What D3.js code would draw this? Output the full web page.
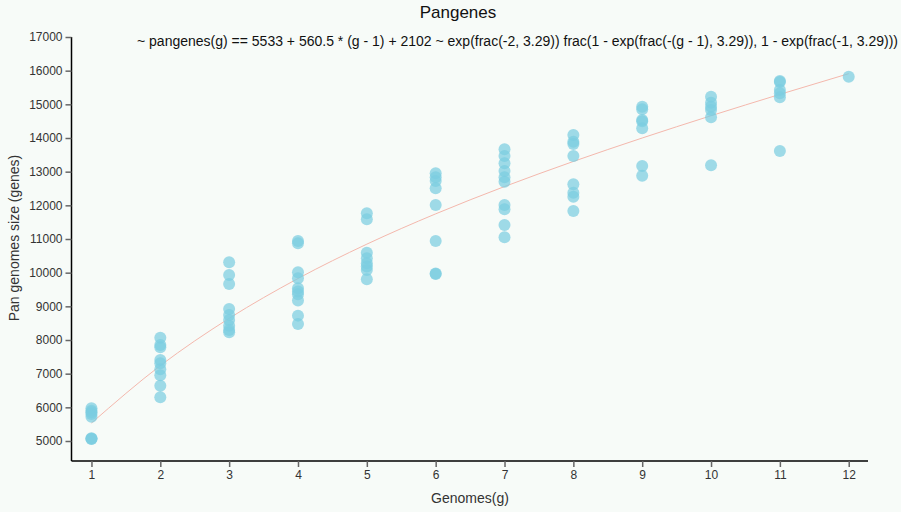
<!DOCTYPE html>
<html><head><meta charset="utf-8">
<script src="https://cdn.jsdelivr.net/npm/d3@7"></script>
<style>
html,body{margin:0;padding:0;background:#f7fbf8;}
svg{display:block;font-family:"Liberation Sans",Arial,sans-serif;}
</style></head>
<body><svg id="c" width="901" height="512"></svg>
<script>
const genomes = [1,2,3,4,5,6,7,8,9,10,11,12];
const g1 = [5972,5900,5854,5800,5723,5081,5070,5060];
const g2 = [8070,7852,7784,7407,7308,7130,6952,6644,6299];
const g3 = [10308,9932,9664,8922,8744,8595,8426,8298,8229];
const g4 = [10941,10872,10012,9834,9537,9438,9358,9170,8724,8477];
const g5 = [11763,11586,10594,10428,10279,10180,10080,9804];
const g6 = [12952,12833,12723,12505,12010,10941,9961,9975];
const g7 = [13664,13466,13248,13020,12833,12703,12010,11882,11417,11051];
const g8 = [14089,13891,13822,13466,12624,12376,12257,11832];
const g9 = [14930,14853,14535,14500,14288,13169,12881];
const g10 = [15227,15049,14930,14832,14614,13189];
const g11 = [15693,15660,15426,15328,15209,13614];
const g12 = [15821];
const pangenes = [g1,g2,g3,g4,g5,g6,g7,g8,g9,g10,g11,g12];
const fitValues = [5533,7238,8643,9826,10847,11747,12558,13303,14000,14661,15296,15911];
const yTicks = [5000,6000,7000,8000,9000,10000,11000,12000,13000,14000,15000,16000,17000];
const titleText = "Pangenes";
const formulaText = "~ pangenes(g) == 5533 + 560.5 * (g - 1) + 2102 ~ exp(frac(-2, 3.29)) frac(1 - exp(frac(-(g - 1), 3.29)), 1 - exp(frac(-1, 3.29)))";
const xLabel = "Genomes(g)";
const yLabel = "Pan genomes size (genes)";

const svg = d3.select("#c");
const mLeft = 71.5, mRight = 868, mTop = 37, mBottom = 461;
const x = d3.scaleLinear().domain([0.71, 12.28]).range([mLeft, mRight]);
const y = d3.scaleLinear().domain([4406, 17000]).range([mBottom, mTop]);

const pts = [];
pangenes.forEach((arr,i)=>arr.forEach(v=>pts.push({g:genomes[i], v})));

svg.append("path")
  .datum(genomes.map((g,i)=>({g, v:fitValues[i]})))
  .attr("fill","none").attr("stroke","#f4b8ad").attr("stroke-width",1)
  .attr("d", d3.line().x(d=>x(d.g)).y(d=>y(d.v)).curve(d3.curveMonotoneX));

svg.append("g").selectAll("circle").data(pts).join("circle")
  .attr("cx",d=>x(d.g)).attr("cy",d=>y(d.v)).attr("r",6)
  .attr("fill","#7ccde0").attr("fill-opacity",0.72);

const xa = svg.append("g").attr("transform",`translate(0,${mBottom})`)
  .call(d3.axisBottom(x).tickValues(genomes).tickFormat(d3.format("d")).tickSizeOuter(0));
const ya = svg.append("g").attr("transform",`translate(${mLeft},0)`)
  .call(d3.axisLeft(y).tickValues(yTicks).tickFormat(d3.format("d")).tickSizeOuter(0));
[xa,ya].forEach(a=>{
  a.select(".domain").attr("stroke","#000").attr("stroke-width",1.5);
  a.selectAll(".tick line").attr("stroke","#666").attr("stroke-width",1.5);
  a.selectAll(".tick text").attr("fill","#333").attr("font-size",12).attr("font-family","Liberation Sans, Arial, sans-serif");
});
ya.select(".domain").attr("d",`M0,${mTop}V${mBottom}`);
xa.select(".domain").attr("d",`M${mLeft},0H${mRight}`);

svg.append("text").attr("x",458).attr("y",18).attr("text-anchor","middle")
  .attr("font-size",17).attr("fill","#111").text(titleText);
svg.append("text").attr("x",137).attr("y",46).attr("text-anchor","start")
  .attr("font-size",14).attr("fill","#111").text(formulaText);
svg.append("text").attr("x",470).attr("y",503).attr("text-anchor","middle")
  .attr("font-size",14).attr("fill","#333").text(xLabel);
svg.append("text").attr("transform","translate(19,238) rotate(-90)").attr("text-anchor","middle")
  .attr("font-size",14).attr("fill","#333").text(yLabel);
</script></body></html>
